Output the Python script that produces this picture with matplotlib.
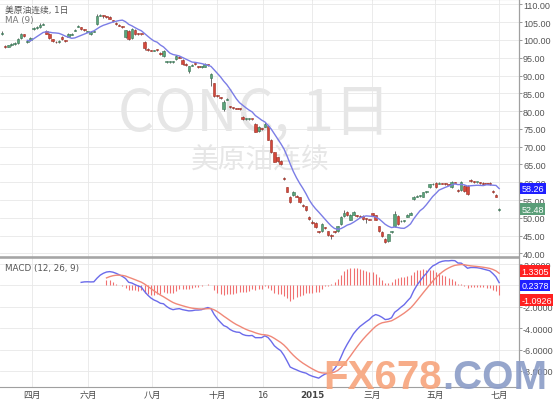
import numpy as np
import pandas as pd
import matplotlib
matplotlib.use("Agg")
import matplotlib.pyplot as plt
import matplotlib.transforms as mtrans

plt.rcParams['font.family'] = ['DejaVu Sans', 'Noto Sans CJK SC']

# price bars (left to right)
opens = [
    101.6, 98.2, 98.0, 98.5, 98.9, 99.0, 100.6, 101.6, 99.3, 99.9,
    103.0, 103.3, 103.6, 104.3, 102.6, 101.8, 100.2, 99.5, 99.3, 100.8,
    100.0, 100.9, 101.5, 102.6, 103.7, 103.5, 102.9, 102.2, 101.6, 102.2,
    104.5, 106.8, 106.9, 106.6, 106.5, 105.6, 104.7, 104.3, 103.8, 100.8,
    102.5, 100.6, 102.8, 101.8, 101.7, 99.4, 97.4, 97.1, 97.0, 97.3,
    96.4, 95.5, 93.7, 93.8, 93.8, 94.6, 95.2, 94.3, 93.2, 91.2,
    92.8, 93.4, 92.6, 92.4, 92.4, 93.0, 89.2, 87.8, 84.4, 84.0,
    80.6, 83.2, 81.3, 81.0, 80.8, 80.7, 78.4, 77.9, 77.8, 77.8,
    76.4, 74.4, 75.0, 75.6, 75.9, 72.0, 68.4, 67.0, 66.0, 61.2,
    58.6, 56.0, 56.4, 56.2, 55.8, 53.6, 53.3, 50.2, 48.8, 48.5,
    46.2, 46.3, 47.3, 46.2, 45.2, 46.2, 46.2, 48.2, 50.5, 51.6,
    49.5, 50.8, 50.7, 50.6, 50.5, 49.7, 49.6, 51.3, 50.7, 47.6,
    46.0, 44.0, 43.5, 46.0, 47.6, 50.5, 49.0, 49.1, 50.2, 50.8,
    55.2, 56.0, 56.1, 56.0, 57.2, 58.6, 59.4, 59.8, 59.6, 59.7,
    59.6, 59.5, 58.6, 60.0, 57.8, 57.8, 59.0, 59.0, 60.7, 60.1,
    60.0, 60.0, 59.8, 59.7, 59.8, 57.5, 56.5, 52.3]
highs = [
    102.4, 98.5, 98.7, 99.1, 99.3, 100.5, 101.9, 101.8, 100.1, 100.8,
    103.6, 103.9, 104.8, 104.7, 102.8, 102.0, 100.4, 99.7, 99.9, 101.0,
    100.1, 101.9, 101.9, 103.0, 104.2, 103.7, 103.0, 102.6, 102.5, 102.7,
    107.2, 107.4, 107.0, 106.8, 106.7, 105.7, 104.9, 104.4, 104.0, 102.9,
    102.7, 103.3, 103.0, 102.0, 101.8, 99.6, 97.6, 97.3, 97.3, 97.5,
    96.5, 97.2, 94.1, 94.0, 94.2, 95.8, 95.4, 94.5, 93.5, 92.8,
    93.2, 93.6, 92.8, 92.6, 93.4, 93.2, 90.7, 88.0, 84.6, 84.1,
    83.0, 83.6, 81.5, 81.2, 81.0, 80.9, 78.6, 78.2, 78.0, 77.9,
    76.6, 75.8, 75.2, 76.8, 76.1, 72.2, 68.6, 67.2, 66.2, 61.4,
    58.8, 56.2, 57.6, 56.3, 56.0, 53.8, 53.4, 50.4, 49.5, 48.8,
    46.4, 48.5, 47.5, 46.4, 45.4, 46.4, 47.8, 50.6, 52.2, 52.0,
    51.1, 52.0, 50.9, 50.8, 50.7, 49.9, 49.8, 51.5, 50.9, 47.8,
    46.2, 44.2, 45.6, 46.4, 52.0, 50.8, 49.3, 49.3, 51.2, 51.6,
    56.2, 56.3, 56.4, 57.4, 57.5, 59.6, 59.7, 60.2, 60.1, 59.9,
    59.8, 59.6, 60.4, 60.2, 58.0, 60.3, 59.2, 59.2, 60.9, 60.3,
    60.2, 60.2, 60.0, 59.9, 60.0, 57.7, 56.7, 52.8]
lows = [
    101.4, 97.8, 97.9, 98.3, 98.6, 98.9, 100.4, 100.8, 99.1, 99.7,
    102.9, 103.1, 103.4, 104.1, 101.6, 100.3, 99.4, 99.0, 99.1, 100.0,
    99.5, 100.7, 101.4, 102.5, 103.6, 102.8, 102.5, 102.1, 101.4, 102.1,
    104.3, 106.6, 106.3, 106.3, 105.8, 105.0, 104.3, 103.8, 103.4, 100.6,
    100.0, 100.4, 101.5, 101.5, 101.4, 97.3, 97.0, 96.8, 96.9, 97.0,
    95.9, 95.3, 93.5, 93.6, 93.6, 94.4, 94.8, 93.0, 92.8, 90.6,
    92.7, 93.0, 92.2, 92.2, 92.3, 92.7, 87.0, 84.0, 84.0, 83.4,
    80.0, 83.1, 80.9, 80.7, 80.5, 80.4, 77.6, 77.6, 77.5, 77.5,
    74.0, 74.2, 74.7, 75.4, 71.8, 68.2, 65.6, 65.8, 64.9, 60.7,
    57.2, 54.3, 56.2, 55.8, 54.2, 53.1, 52.0, 49.4, 48.3, 47.2,
    45.8, 46.1, 46.9, 45.0, 44.0, 45.8, 46.0, 48.0, 50.3, 50.6,
    49.3, 50.7, 50.3, 50.1, 49.4, 48.5, 49.3, 50.6, 49.3, 46.1,
    44.6, 43.0, 43.2, 45.8, 47.4, 48.0, 48.9, 48.9, 50.1, 50.7,
    55.0, 55.9, 55.9, 55.8, 57.0, 58.5, 59.3, 58.5, 59.5, 59.4,
    59.3, 59.1, 58.4, 59.8, 57.2, 57.6, 57.4, 56.4, 60.2, 59.9,
    59.8, 59.6, 59.3, 59.4, 59.3, 57.0, 55.8, 52.0]
closes = [
    102.0, 98.0, 98.5, 98.9, 99.0, 100.2, 101.6, 101.0, 99.8, 100.6,
    103.3, 103.6, 104.3, 104.5, 101.8, 100.6, 99.6, 99.3, 99.6, 100.2,
    99.7, 101.6, 101.7, 102.8, 103.9, 103.0, 102.7, 102.4, 102.2, 102.5,
    106.7, 107.0, 106.6, 106.5, 106.0, 105.2, 104.5, 104.0, 103.6, 102.7,
    100.3, 103.0, 101.8, 101.7, 101.6, 97.6, 97.2, 97.0, 97.1, 97.2,
    96.0, 96.9, 93.9, 93.8, 94.0, 95.5, 95.0, 93.2, 93.0, 92.6,
    93.0, 93.2, 92.4, 92.4, 93.2, 92.9, 90.4, 84.3, 84.2, 83.6,
    82.5, 83.4, 81.1, 80.9, 80.7, 80.6, 77.8, 77.9, 77.8, 77.7,
    74.2, 75.5, 74.9, 76.3, 72.0, 68.4, 65.8, 66.0, 65.1, 60.9,
    57.4, 54.5, 57.2, 56.0, 54.4, 53.3, 52.2, 49.6, 48.6, 47.4,
    46.0, 48.2, 47.1, 45.2, 45.0, 46.0, 47.6, 50.2, 51.5, 50.9,
    50.8, 51.6, 50.5, 50.3, 49.6, 49.6, 49.5, 50.8, 49.5, 46.3,
    44.8, 43.3, 45.4, 46.2, 51.0, 48.3, 49.1, 49.1, 50.9, 51.3,
    56.0, 56.1, 56.2, 57.2, 57.3, 59.4, 59.5, 58.7, 59.8, 59.6,
    59.5, 59.3, 60.1, 59.9, 57.6, 60.0, 57.6, 56.8, 60.4, 60.0,
    60.0, 59.8, 59.5, 59.6, 59.5, 57.2, 56.0, 52.48]

month_labels = ['四月', '六月', '八月', '十月', '16', '2015', '三月', '五月', '七月']
month_bars = [9.5, 27.2, 47.4, 67.9, 82.4, 97.9, 116.9, 136.8, 157.0]

last_ma = 58.26
last_close = 52.48
last_signal = 1.3305
last_macd = 0.2378
last_hist = -1.0926

o = np.array(opens)
h = np.array(highs)
l = np.array(lows)
c = np.array(closes)
x = np.arange(len(c))
s = pd.Series(c)
ma9 = s.rolling(9).mean()
macd = s.ewm(span=12, adjust=False).mean() - s.ewm(span=26, adjust=False).mean()
signal = macd.ewm(span=9, adjust=False).mean()
hist = macd - signal

GREEN = '#5aa57a'
RED = '#d4483b'
NUMFONT = ['Liberation Sans', 'DejaVu Sans']

fig = plt.figure(figsize=(5.53, 4.02), dpi=100)
W = 518.5 / 553
ax1 = fig.add_axes([0, 1 - 258 / 402, W, 258 / 402])
ax2 = fig.add_axes([0, 1 - 388 / 402, W, 129 / 402], sharex=ax1)

# watermark
ax1.text(254 / 553, 1 - 130 / 402, 'CONC, 1日', transform=fig.transFigure,
         fontsize=41, color='#e6e6e6', ha='center', va='baseline',
         family=['Noto Sans CJK SC', 'DejaVu Sans'], zorder=0)
ax1.text(260 / 553, 1 - 161 / 402, '美原油连续', transform=fig.transFigure,
         fontsize=20, color='#e6e6e6', ha='center', va='center',
         family=['Noto Sans CJK SC'], zorder=0)

# candles
up = c >= o
ax1.vlines(x, l, h, color='#555555', lw=0.6, zorder=2)
body = np.maximum(np.abs(c - o), 0.25)
bottom = np.minimum(o, c)
ax1.bar(x[up], body[up], bottom=bottom[up], width=0.75, color=GREEN,
        edgecolor='#3b7355', lw=0.4, zorder=3)
ax1.bar(x[~up], body[~up], bottom=bottom[~up], width=0.75, color=RED,
        edgecolor='#9c2f25', lw=0.4, zorder=3)
ax1.plot(x, ma9, color='#7b7de6', lw=1.0, zorder=4)

# macd
ax2.vlines(x[33:], 0, hist[33:], color='#f07070', lw=0.8, zorder=2)
ax2.plot(x[25:], macd[25:], color='#6b6bea', lw=1.0, zorder=3)
ax2.plot(x[33:], signal[33:], color='#f08878', lw=1.0, zorder=3)

ax1.set_xlim(-0.63, 163.1)
ax1.set_ylim(39.0, 111.5)
ax2.set_ylim(-9.5, 2.57)

for ax in (ax1, ax2):
    ax.set_facecolor('white')
    ax.yaxis.tick_right()
    ax.tick_params(axis='y', direction='out', length=2.5, width=0.6,
                   colors='#888888', labelcolor='#555555', labelsize=6.5, pad=0.8)
    ax.set_xticks(month_bars)
    ax.grid(True, color='#e8e8e8', lw=0.6, zorder=0)
    ax.set_axisbelow(True)
    ax.spines['left'].set_visible(False)
    for side in ('top', 'bottom', 'right'):
        ax.spines[side].set_color('#a0a0a0')
    ax.spines['right'].set_linewidth(0.9)

ax1.set_yticks(np.arange(40, 111, 5))
ax1.set_yticklabels(['%.2f' % v for v in np.arange(40, 111, 5)], family=NUMFONT)
ax1.spines['bottom'].set_linewidth(1.1)
ax1.tick_params(axis='x', length=0, labelbottom=False)

ax2.set_yticks([2, 0, -2, -4, -6, -8])
ax2.set_yticklabels(['%.4f' % v for v in [2, 0, -2, -4, -6, -8]], family=NUMFONT)
ax2.spines['top'].set_linewidth(1.1)
ax2.set_xticklabels(month_labels)
ax2.tick_params(axis='x', length=0, labelsize=6.3, labelcolor='#444444', pad=2)
for lab in ax2.get_xticklabels():
    if lab.get_text() == '2015':
        lab.set_fontweight('bold')

# last value tags
def tag(ax, val, txt, col):
    tr = mtrans.blended_transform_factory(ax.transAxes, ax.transData)
    ax.text(1.006, val, txt, transform=tr, fontsize=6.5, color='white',
            va='center', ha='left', clip_on=False, zorder=10, family=NUMFONT,
            bbox=dict(boxstyle='square,pad=0.15', fc=col, ec='none'))

tag(ax1, last_ma, '%.2f' % last_ma, '#1f1fff')
tag(ax1, last_close, '%.2f' % last_close, '#5a9e78')
tag(ax2, last_signal, '%.4f' % last_signal, '#ff2020')
tag(ax2, last_macd - 0.25, '%.4f' % last_macd, '#1f1fff')
tag(ax2, last_hist - 0.3, '%.4f' % last_hist, '#ff2020')

# panel captions
ax1.text(5 / 553, 1 - 10 / 402, '美原油连续, 1日', transform=fig.transFigure,
         fontsize=6.3, color='#555555', va='center', ha='left')
ax1.text(5 / 553, 1 - 21 / 402, 'MA (9)', transform=fig.transFigure,
         fontsize=6.3, color='#777777', va='center', ha='left')
ax2.text(5 / 553, 1 - 269 / 402, 'MACD (12, 26, 9)', transform=fig.transFigure,
         fontsize=6.3, color='#555555', va='center', ha='left')

# site logo
fig.text(442 / 553, 1 - 389 / 402, 'FX678', fontsize=29, fontweight='bold',
         family='Liberation Sans', color='#f7a47c', alpha=0.9,
         ha='right', va='baseline')
fig.text(442 / 553, 1 - 389 / 402, '.COM', fontsize=29, fontweight='bold',
         family='Liberation Sans', color='#8b9cc7', alpha=0.9,
         ha='left', va='baseline')

fig.savefig('out.png', dpi=100, facecolor='white')
